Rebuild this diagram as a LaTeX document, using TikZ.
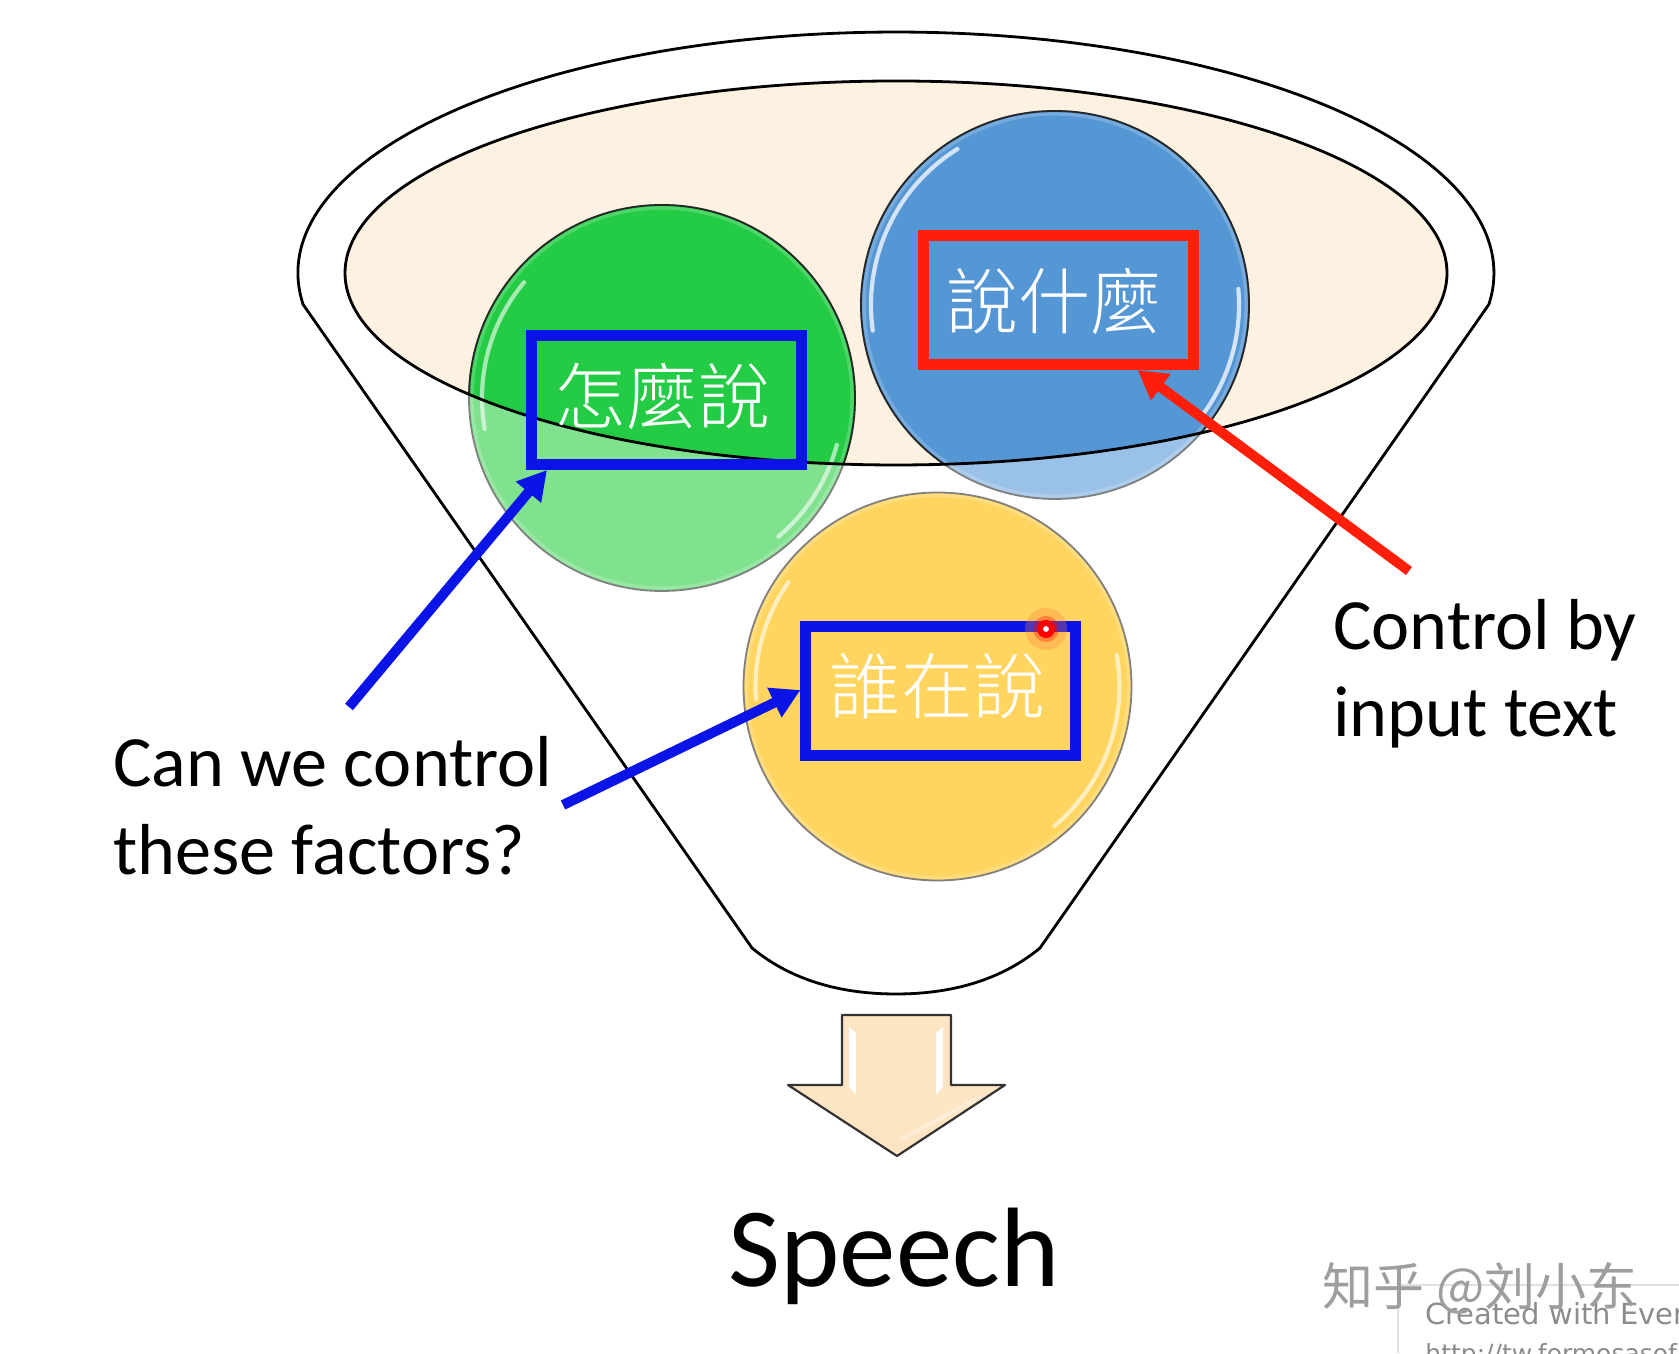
\documentclass[tikz,border=0pt]{standalone}
\usepackage{fontspec}
\usetikzlibrary{arrows.meta,calc}
\setmainfont{Carlito}
\newfontfamily\cjktc{Noto Sans CJK TC Light}
\newfontfamily\cjksc{Noto Sans CJK SC}
\newfontfamily\dejavu{DejaVu Sans}
\definecolor{cream}{HTML}{FDF1E2}
\definecolor{arrowfill}{HTML}{FDE4C3}
\definecolor{greenD}{HTML}{24CC45}
\definecolor{greenL}{HTML}{80E28E}
\definecolor{blueD}{HTML}{5596D5}
\definecolor{blueL}{HTML}{9AC1E7}
\definecolor{yellowD}{HTML}{FFD55F}
\definecolor{boxblue}{HTML}{0A14E6}
\definecolor{boxred}{HTML}{FF1E0A}
\tikzset{
  funnelline/.style={draw=black,line width=1.4pt},
  disc/.style={draw=black!50,line width=.9pt},
  discdark/.style={draw=black!85,line width=.9pt},
  gloss/.style={draw=white,line width=2.1pt,line cap=round,opacity=.6},
  rim/.style={draw=white,line width=1.6pt,opacity=.2},
  factorbox/.style={draw,line width=5.5pt,minimum width=135pt,minimum height=64.5pt,inner sep=0pt,outer sep=0pt},
  factortext/.style={inner sep=0pt,text=white,font=\cjktc\fontsize{36}{36}\selectfont},
  callout/.style={line width=5pt,-{Triangle[length=14.5pt,width=15.5pt]}},
  caption/.style={anchor=base west,inner sep=0pt,font=\fontsize{36.1}{36.1}\selectfont},
}
\begin{document}
\begin{tikzpicture}[x=.5pt,y=.5pt]
\useasboundingbox (0,0) rectangle (1679,1353);
\fill[white] (0,0) rectangle (1679,1353);
% funnel
\draw[funnelline,line join=round] (303.1,1048.5) arc[start angle=187.5,end angle=-7.5,x radius=598,y radius=241]
  -- (1040,405) .. controls (1000,372) and (950,359) .. (896,359) .. controls (842,359) and (792,372) .. (752,405) -- cycle;
% inner ellipse
\fill[cream] (896,1080) ellipse[x radius=551,y radius=192];
% discs, lighter where they leave the ellipse
\fill[greenL] (662,955) circle[radius=193];
\fill[blueL] (1055,1048) circle[radius=194];
\draw[disc] (662,955) circle[radius=193];
\draw[disc] (1055,1048) circle[radius=194];
\begin{scope}
  \clip (896,1080) ellipse[x radius=551,y radius=192];
  \fill[greenD] (662,955) circle[radius=193];
  \fill[blueD] (1055,1048) circle[radius=194];
  \draw[discdark] (662,955) circle[radius=193];
  \draw[discdark] (1055,1048) circle[radius=194];
\end{scope}
\fill[yellowD] (937.5,666.5) circle[radius=194];
\draw[disc] (937.5,666.5) circle[radius=194];
% gloss
\draw[rim] (662,955) circle[radius=190];
\draw[rim] (1055,1048) circle[radius=191];
\draw[rim] (937.5,666.5) circle[radius=191];
\draw[gloss] (662,955) ++(140:180) arc[start angle=140,end angle=190,radius=180];
\draw[gloss] (662,955) ++(-15:181) arc[start angle=-15,end angle=-50,radius=181];
\draw[gloss,opacity=.75] (1055,1048) ++(122:184) arc[start angle=122,end angle=188,radius=184];
\draw[gloss,opacity=.75] (1055,1048) ++(5:184) arc[start angle=5,end angle=-38,radius=184];
\draw[gloss] (937.5,666.5) ++(145:182) arc[start angle=145,end angle=184,radius=182];
\draw[gloss] (937.5,666.5) ++(10:182) arc[start angle=10,end angle=-50,radius=182];
% ellipse outline
\draw[funnelline] (896,1080) ellipse[x radius=551,y radius=192];
% factor boxes
\node[factorbox,draw=boxblue] (how) at (666,952.5) {};
\node[factorbox,draw=boxred] (what) at (1058.5,1052.5) {};
\node[factorbox,draw=boxblue] (who) at (940.5,662) {};
\node[factortext] (howtext) at ($(how)+(-4,4)$) {怎麼說};
\node[factortext] (whattext) at ($(what)+(-4,-1)$) {說什麼};
\node[factortext] (whotext) at ($(who)+(-3,5)$) {誰在說};
% cursor
\fill[yellowD!60!red,opacity=.3] (1046,724) circle[radius=21];
\fill[red,opacity=.3] (1046,724) circle[radius=13];
\draw[red,line width=3pt,fill=white] (1046,724) circle[radius=6];
% captions
\node[caption] (ask) at (113,566) {Can we control};
\node[caption] (ask2) at (113,478) {these factors?};
\node[caption] (ctrl) at (1333,703) {Control by};
\node[caption] (ctrl2) at (1333,616) {input text};
\node[anchor=base,inner sep=0pt,font=\fontsize{56.5}{56.5}\selectfont] (speech) at (894,66) {Speech};
% callouts
\coordinate (t1) at (349,646);
\coordinate (t2) at (563,548);
\coordinate (t3) at (1409,782);
\draw[callout,draw=boxblue,fill=boxblue] (t1) -- ($(how.south west)+(16,-5)$);
\draw[callout,draw=boxblue,fill=boxblue] (t2) -- ($(who.west)+(-5,1)$);
\draw[callout,draw=boxred,fill=boxred] (t3) -- ($(what.south)+(79,-5)$);
% output arrow
\fill[arrowfill] (842,338) -- (951,338) -- (951,268) -- (1005,268) -- (897,197) -- (788,268) -- (842,268) -- cycle;
\fill[white] (849,326) -- (856,320) -- (856,258) -- (849,266) -- cycle;
\fill[white] (936,320) -- (943,326) -- (943,266) -- (936,258) -- cycle;
\draw[white,opacity=.35,line width=2pt] (900,213) -- (980,256);
\draw[black!80,line width=1.1pt,line join=round] (842,338) -- (951,338) -- (951,268) -- (1005,268) -- (897,197) -- (788,268) -- (842,268) -- cycle;
% corner stamp, cut by the page edge
\begin{scope}
\clip (0,0) rectangle (1679,1353);
\draw[black!12,line width=1pt] (1679,68) -- (1398,68) -- (1398,0);
\node[anchor=base west,inner sep=0pt,text=black!45,font=\dejavu\fontsize{14.5}{14.5}\selectfont] (stamp) at (1425,28) {Created with Ever};
\node[anchor=base west,inner sep=0pt,text=black!45,font=\dejavu\fontsize{12.5}{12.5}\selectfont] (stampurl) at (1425,-9) {http://tw.formosasof};
\end{scope}
\node[anchor=center,inner sep=0pt,text=black!38,font=\cjksc\fontsize{25.5}{25.5}\selectfont] (mark) at (1480,65) {知乎 @刘小东};
\end{tikzpicture}
\end{document}
